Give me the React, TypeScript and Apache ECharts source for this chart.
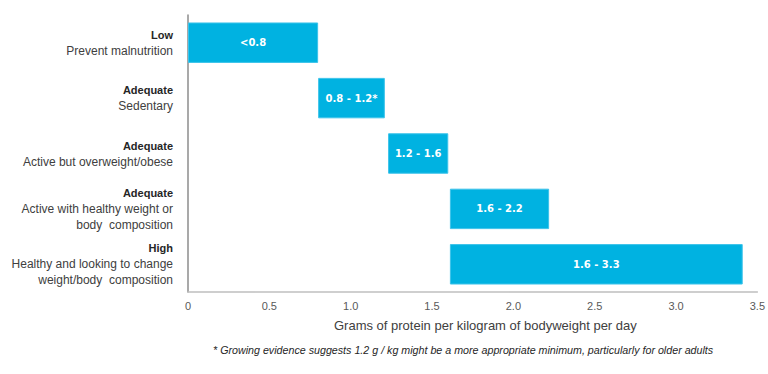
import React, { useEffect, useRef } from "react";
import * as echarts from "echarts";

const levels = ["Low", "Adequate", "Adequate", "Adequate", "High"];
const descriptions = [
  "Prevent malnutrition",
  "Sedentary",
  "Active but overweight/obese",
  "Active with healthy weight or\nbody  composition",
  "Healthy and looking to change\nweight/body  composition",
];
const rangeStarts = [0, 0.8, 1.23, 1.61, 1.61];
const rangeEnds = [0.8, 1.21, 1.6, 2.22, 3.41];
const rangeLabels = ["<0.8", "0.8 - 1.2*", "1.2 - 1.6", "1.6 - 2.2", "1.6 - 3.3"];
const xTicks = [0, 0.5, 1.0, 1.5, 2.0, 2.5, 3.0, 3.5];
const xAxisTitle = "Grams of protein per kilogram of bodyweight per day";
const footnote =
  "* Growing evidence suggests 1.2 g / kg might be a more appropriate minimum, particularly for older adults";

export default function App() {
  const ref = useRef<HTMLDivElement>(null);
  useEffect(() => {
    if (!ref.current) return;
    const chart = echarts.init(ref.current, null, { renderer: "svg" });
    const categories = levels.map((l, i) => `${l}|${i}`);
    const lengths = rangeEnds.map((e, i) => +(e - rangeStarts[i]).toFixed(3));
    chart.setOption({
      animation: false,
      grid: { left: 188, right: 10, top: 15, bottom: 82, containLabel: false },
      xAxis: {
        type: "value",
        min: 0,
        max: 3.5,
        interval: 0.5,
        axisLine: { show: true, lineStyle: { color: "#bfbfbf", width: 1.5 } },
        axisTick: { show: false },
        splitLine: { show: false },
        axisLabel: {
          color: "#595959",
          fontFamily: "Liberation Sans",
          fontSize: 11,
          margin: 8,
          formatter: (v: number) => {
            const t = xTicks.find((x) => Math.abs(x - v) < 1e-6);
            if (t === undefined) return "";
            return t === 0 ? "0" : t.toFixed(1);
          },
        },
      },
      yAxis: {
        type: "category",
        inverse: true,
        data: categories,
        axisLine: { show: true, lineStyle: { color: "#8c8c8c", width: 1.5 } },
        axisTick: { show: false },
        axisLabel: {
          margin: 15,
          align: "right",
          formatter: (v: string) => {
            const i = Number(v.split("|")[1]);
            const desc = descriptions[i]
              .split("\n")
              .map((d) => `{d|${d}}`)
              .join("\n");
            return `{b|${levels[i]}}\n${desc}`;
          },
          rich: {
            b: {
              fontFamily: "Liberation Sans",
              fontWeight: "bold",
              fontSize: 11,
              color: "#262626",
              lineHeight: 16,
              align: "right",
            },
            d: {
              fontFamily: "Liberation Sans",
              fontSize: 12,
              color: "#404040",
              lineHeight: 16,
              align: "right",
            },
          },
        },
      },
      series: [
        {
          type: "bar",
          stack: "r",
          data: rangeStarts,
          itemStyle: { color: "transparent" },
          barCategoryGap: "27%",
          silent: true,
        },
        {
          type: "bar",
          stack: "r",
          data: lengths,
          barCategoryGap: "27%",
          itemStyle: { color: "#00b2e1", borderColor: "#3cc3ea", borderWidth: 1 },
          label: {
            show: true,
            position: "inside",
            color: "#ffffff",
            fontFamily: "DejaVu Sans",
            fontWeight: "bold",
            fontSize: 10,
            formatter: (p: any) => rangeLabels[p.dataIndex],
          },
        },
      ],
      graphic: [
        {
          type: "text",
          left: 334,
          top: 319,
          style: {
            text: xAxisTitle,
            fontFamily: "Liberation Sans",
            fontSize: 13,
            fill: "#404040",
          },
        },
        {
          type: "text",
          left: 213,
          top: 344,
          style: {
            text: footnote,
            fontFamily: "Liberation Sans",
            fontStyle: "italic",
            fontSize: 10.7,
            fill: "#262626",
          },
        },
      ],
    });
    return () => chart.dispose();
  }, []);
  return (
    <div
      ref={ref}
      style={{ position: "fixed", left: 0, top: 0, width: 768, height: 374, background: "#fff" }}
    />
  );
}
